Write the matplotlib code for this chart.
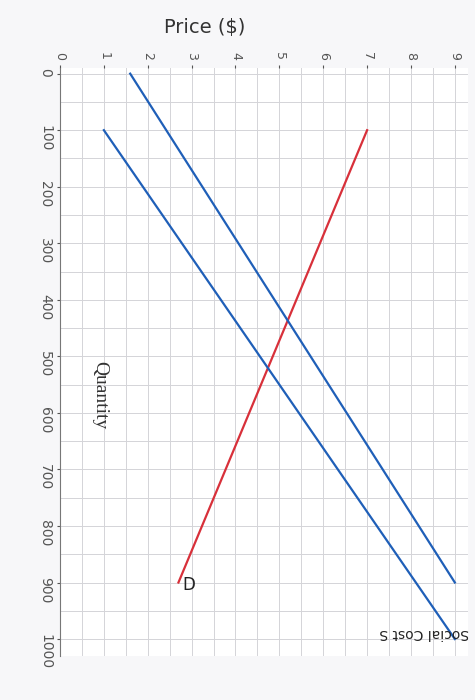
import matplotlib
matplotlib.use("Agg")
import matplotlib.pyplot as plt
import numpy as np

# chart appears rotated: price runs left->right, quantity runs top->bottom
price_ticks = [0, 1, 2, 3, 4, 5, 6, 7, 8, 9]
qty_ticks = [0, 100, 200, 300, 400, 500, 600, 700, 800, 900, 1000]

demand_q = [100, 900]
demand_p = [7, 2.7]
supply_q = [100, 1000]
supply_p = [1, 9]
social_q = [0, 900]
social_p = [1.6, 9]

fig = plt.figure(figsize=(4.75, 7), dpi=100)
fig.patch.set_facecolor('#f7f7f9')
W, H = 475, 700
l, r, t, b = 60, 468, 68, 656
ax = fig.add_axes([l / W, 1 - b / H, (r - l) / W, (b - t) / H])
ax.set_facecolor('white')

ax.plot(demand_p, demand_q, color='#d8303a', lw=1.6)
ax.plot(supply_p, supply_q, color='#1f5fb8', lw=1.6)
ax.plot(social_p, social_q, color='#1f5fb8', lw=1.6)

ax.set_xlim(0, 9.3)
ax.set_ylim(1030, -10)
ax.set_xticks(price_ticks)
ax.set_yticks(qty_ticks)
ax.set_xticks(np.arange(0, 9.3, 0.5), minor=True)
ax.set_yticks(np.arange(0, 1030, 50), minor=True)
ax.grid(True, which='both', color='#d4d4d8', lw=0.7)
ax.set_axisbelow(True)
ax.xaxis.tick_top()
ax.tick_params(axis='x', which='major', labelsize=9, colors='#555555', labelrotation=-90, length=2)
ax.tick_params(axis='y', which='major', labelsize=10, colors='#555555', labelrotation=-90, length=2)
ax.tick_params(which='minor', length=0)
for s in ['top', 'right', 'bottom']:
    ax.spines[s].set_visible(False)
ax.spines['left'].set_color('#777777')

fig.text(205 / W, 1 - 28 / H, 'Price ($)', fontsize=14, color='#333333', ha='center', va='center')
fig.text(100 / W, 1 - 395 / H, 'Quantity', fontsize=14, color='#333333', ha='center', va='center',
         rotation=-90, family='Liberation Serif')
ax.text(2.8, 905, 'D', fontsize=12, ha='left', va='center', color='#222222')
ax.text(8.3, 990, 'Social Cost S', fontsize=10, ha='center', va='center', rotation=180, color='#222222')

fig.savefig('out.png', dpi=100)
